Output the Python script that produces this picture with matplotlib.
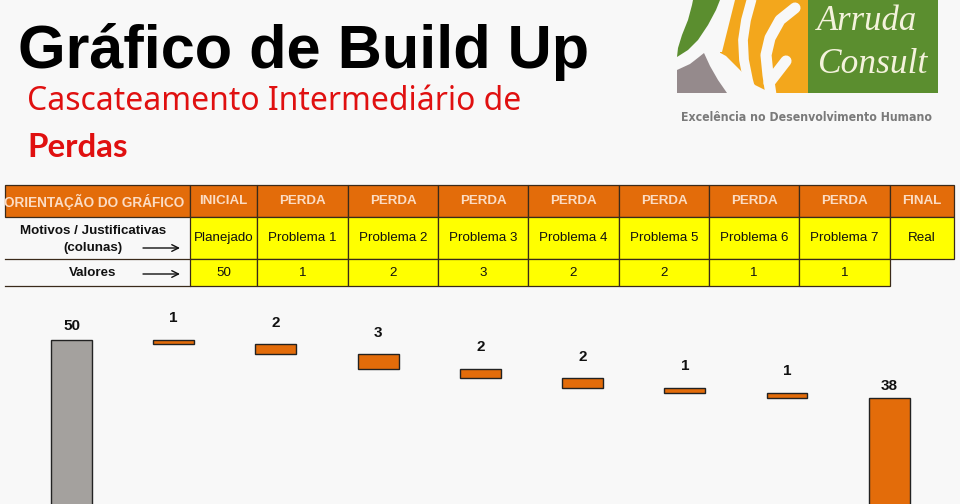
import matplotlib
matplotlib.use("Agg")
import matplotlib.pyplot as plt
from matplotlib.patches import Rectangle, Polygon
import numpy as np

# ---------------- data ----------------
titulo = "Gráfico de Build Up"
subtitulo_1 = "Cascateamento Intermediário de"
subtitulo_2 = "Perdas"
logo_nome = ["Arruda", "Consult"]
logo_slogan = "Excelência no Desenvolvimento Humano"

cab_orientacao = "ORIENTAÇÃO DO GRÁFICO"
orientacao = ["INICIAL", "PERDA", "PERDA", "PERDA", "PERDA", "PERDA", "PERDA", "PERDA", "FINAL"]
cab_motivos = ["Motivos / Justificativas", "(colunas)"]
motivos = ["Planejado", "Problema 1", "Problema 2", "Problema 3", "Problema 4",
           "Problema 5", "Problema 6", "Problema 7", "Real"]
cab_valores = "Valores"
inicial = 50
perdas = [1, 2, 3, 2, 2, 1, 1]
final = 38

# ---------------- style ----------------
BG = "#F8F8F8"
ORANGE = "#E36C0A"
HEAD_TXT = "#FBDCC4"
YELLOW = "#FFFF00"
BORDER = "#3A2A1A"
GRAY = "#A4A19E"
RED = "#E01010"
GREEN = "#5B8E2F"
LOGO_OR = "#F3A71C"
LOGO_GR = "#958A8C"
SANS = ["Liberation Sans", "DejaVu Sans"]

W, H = 960, 504
fig = plt.figure(figsize=(W / 100, H / 100), dpi=100)
fig.patch.set_facecolor(BG)

# ---------------- waterfall chart ----------------
ax = fig.add_axes([0, 0, 1, 204 / H])
ax.set_xlim(-0.6996, 8.693)
ax.set_ylim(15.94, 58.2)
ax.axis("off")

n = len(perdas)
xs = np.arange(n + 2)
bw = 0.40
cum = inicial - np.cumsum(perdas)
ax.bar(xs[0], inicial, width=bw, color=GRAY, edgecolor="#222222", linewidth=1.0)
ax.bar(xs[1:n + 1], perdas, bottom=cum, width=bw, color=ORANGE, edgecolor="#222222", linewidth=1.0)
ax.bar(xs[-1], final, width=bw, color=ORANGE, edgecolor="#222222", linewidth=1.0)

lab = dict(ha="center", va="center", fontsize=11, fontweight="bold", family=SANS,
           textcoords="offset points", color="#111111")
ax.annotate(str(inicial), (xs[0], inicial), xytext=(0, 9.5), **lab)
for xi, p, b in zip(xs[1:n + 1], perdas, cum):
    ax.annotate(str(p), (xi, b + p), xytext=(0, 15.5), **lab)
ax.annotate(str(final), (xs[-1], final), xytext=(0, 8.5), **lab)

# ---------------- overlay (title, logo, table) ----------------
ao = fig.add_axes([0, 0, 1, 1])
ao.set_xlim(0, W)
ao.set_ylim(H, 0)
ao.axis("off")
ao.patch.set_visible(False)

renderer = fig.canvas.get_renderer()


def fit_text(x, y, s, width, **kw):
    t = ao.text(x, y, s, fontsize=20, **kw)
    bb = t.get_window_extent(renderer=renderer)
    t.set_fontsize(20 * width / bb.width)
    return t


fit_text(18, 68, titulo, 572, ha="left", va="baseline", family=SANS,
         fontweight="bold", color="black")
fit_text(27, 110, subtitulo_1, 493, ha="left", va="baseline", family=["Noto Sans", "DejaVu Sans"],
         color=RED)
fit_text(27, 157, subtitulo_2, 101, ha="left", va="baseline", family=["Lato", "DejaVu Sans"],
         fontweight="bold", color=RED)

# logo
ao.add_patch(Rectangle((808, 0), 130, 93, facecolor=GREEN, edgecolor="none"))
ao.add_patch(Rectangle((720, 0), 88, 93, facecolor=LOGO_OR, edgecolor="none"))
ao.add_patch(Polygon([(715, 0), (735, 0), (722, 52), (715, 52)], closed=True,
                     facecolor=BG, edgecolor="none"))
ao.add_patch(Polygon([(715, 50), (726, 56), (740, 70), (755, 85), (771, 93), (715, 93)],
                     closed=True, facecolor=BG, edgecolor="none"))
ao.add_patch(Polygon([(677, 93), (677, 70), (690, 64), (699, 57), (704, 53), (710, 66),
                      (718, 80), (727, 93)],
                     closed=True, facecolor=LOGO_GR, edgecolor="none"))
ao.add_patch(Polygon([(677, 57), (678, 48), (682, 35), (688, 20), (692, 5), (693, 0),
                      (720, 0), (716, 10), (708, 25), (698, 40), (688, 50)],
                     closed=True, facecolor=GREEN, edgecolor="none"))
ao.plot([752, 746, 743, 744, 748, 752], [-2, 20, 40, 60, 80, 95], color=BG, lw=7.0,
        solid_capstyle="butt", solid_joinstyle="round")
ao.plot([795, 780, 770, 766, 768, 771], [8, 20, 38, 55, 75, 95], color=BG, lw=8.0,
        solid_capstyle="round", solid_joinstyle="round")
ao.plot([769, 786], [83, 61], color=BG, lw=8.0, solid_capstyle="round")
fit_text(817, 30, logo_nome[0], 100, ha="left", va="baseline",
         family=["Liberation Serif", "DejaVu Serif"], style="italic", color="#F4F2DC")
fit_text(817, 73, logo_nome[1], 110, ha="left", va="baseline",
         family=["Liberation Serif", "DejaVu Serif"], style="italic", color="#F4F2DC")
fit_text(681, 121, logo_slogan, 251, ha="left", va="baseline",
         family=["DejaVu Sans"], fontstretch="condensed",
         fontweight="bold", color="#7A7A7A")

# table
cols = [5, 190, 257, 348, 438, 528, 619, 709, 799, 890, 954]
rows = [185, 217, 259, 286]
fs = 9.6

# header row
for j in range(len(cols) - 1):
    ao.add_patch(Rectangle((cols[j], rows[0]), cols[j + 1] - cols[j], rows[1] - rows[0],
                           facecolor=ORANGE, edgecolor=BORDER, linewidth=0.9))
ao.text(4, (rows[0] + rows[1]) / 2 + 0.5, cab_orientacao, ha="left", va="center", fontsize=9.8,
        fontweight="bold", color=HEAD_TXT, family=SANS)
for j, s in enumerate(orientacao):
    cxx = (cols[j + 1] + cols[j + 2]) / 2
    ao.text(cxx, (rows[0] + rows[1]) / 2 + 0.5, s, ha="center", va="center", fontsize=fs,
            fontweight="bold", color=HEAD_TXT, family=SANS)

# motivos row
for j, s in enumerate(motivos):
    x0, x1 = cols[j + 1], cols[j + 2]
    ao.add_patch(Rectangle((x0, rows[1]), x1 - x0, rows[2] - rows[1],
                           facecolor=YELLOW, edgecolor=BORDER, linewidth=0.9))
    ao.text((x0 + x1) / 2, (rows[1] + rows[2]) / 2, s, ha="center", va="center",
            fontsize=fs, color="#111111", family=SANS)

# valores row
valores = [inicial] + perdas
for j, v in enumerate(valores):
    x0, x1 = cols[j + 1], cols[j + 2]
    ao.add_patch(Rectangle((x0, rows[2]), x1 - x0, rows[3] - rows[2],
                           facecolor=YELLOW, edgecolor=BORDER, linewidth=0.9))
    ao.text((x0 + x1) / 2, (rows[2] + rows[3]) / 2, str(v), ha="center", va="center",
            fontsize=fs, color="#111111", family=SANS)

# first column labels
ao.plot([cols[0], cols[1]], [rows[2], rows[2]], color=BORDER, lw=0.9)
ao.plot([cols[0], cols[1]], [rows[3], rows[3]], color=BORDER, lw=0.9)
ao.text(93, 231, cab_motivos[0], ha="center", va="center", fontsize=fs, fontweight="bold",
        color="#111111", family=SANS)
ao.text(93, 248, cab_motivos[1], ha="center", va="center", fontsize=fs, fontweight="bold",
        color="#111111", family=SANS)
ao.text(93, 273, cab_valores, ha="center", va="center", fontsize=fs, fontweight="bold",
        color="#111111", family=SANS)
for yy in (248, 274):
    ao.annotate("", xy=(180, yy), xytext=(143, yy),
                arrowprops=dict(arrowstyle="->", color="#111111", lw=1.0,
                                mutation_scale=12, shrinkA=0, shrinkB=0))

fig.savefig("out.png", dpi=100, facecolor=BG)
